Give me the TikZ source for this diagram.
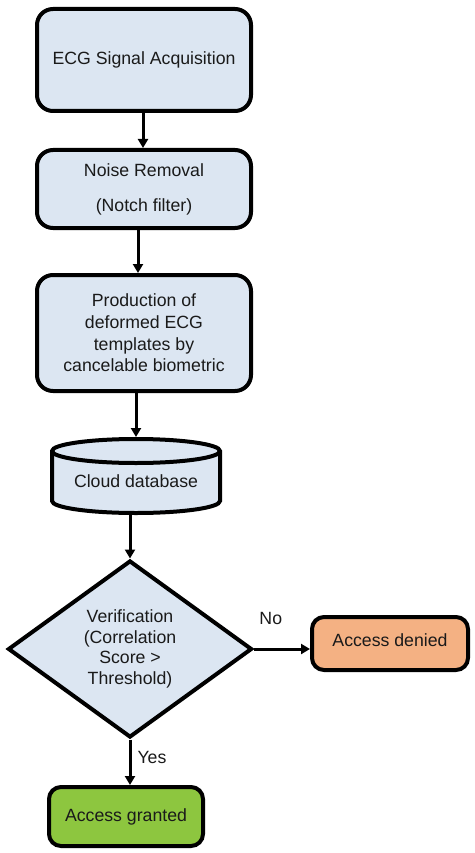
\documentclass[tikz,border=0pt]{standalone}
\usepackage{fontspec}
\setmainfont{Liberation Sans}
\usetikzlibrary{shapes.geometric,arrows.meta}
\definecolor{boxblue}{HTML}{DCE6F2}
\definecolor{boxorange}{HTML}{F4B183}
\definecolor{boxgreen}{HTML}{8DC63F}
\definecolor{txt}{HTML}{1A1A1A}
\tikzset{
  basefont/.style={font=\fontsize{17.7}{20.6}\selectfont, text=txt},
  procbox/.style={basefont, draw=black, line width=4pt, rounded corners=16pt, fill=boxblue, align=center, inner sep=0pt},
  resbox/.style={basefont, draw=black, line width=4pt, rounded corners=12pt, align=center, inner sep=0pt},
  decision/.style={basefont, diamond, draw=black, line width=4pt, fill=boxblue, align=center, inner sep=0pt, aspect=1.38},
  arr/.style={line width=3pt, -{Triangle[length=9pt,width=10pt]}},
  lbl/.style={basefont, inner sep=0pt}
}
\begin{document}
\begin{tikzpicture}[x=1pt,y=-1pt]
\useasboundingbox[fill=white] (0,0) rectangle (474,853);

\node[procbox, minimum width=214pt, minimum height=102pt] (b1) at (144,60) {\raisebox{4pt}{ECG Signal Acquisition}};
\node[procbox, minimum width=214pt, minimum height=78pt] (b2) at (144,189) {Noise Removal\\[14.4pt](Notch filter)};
\node[procbox, minimum width=214pt, minimum height=116pt, font=\fontsize{17.7}{21.7}\selectfont] (b3) at (144,333) {Production of\\deformed ECG\\templates by\\cancelable biometric};

% cloud database (cylinder)
\node[basefont, minimum width=172pt, minimum height=78pt, inner sep=0pt, outer sep=0pt] (cyl) at (136,476) {};
\path[draw=black, fill=boxblue, line width=4pt]
  (52,451) -- (52,501) arc[start angle=180, end angle=360, x radius=84pt, y radius=12pt]
  -- (220,451) arc[start angle=0, end angle=180, x radius=84pt, y radius=12pt] -- cycle;
\draw[line width=4pt] (52,451) arc[start angle=180, end angle=360, x radius=84pt, y radius=12pt];
\node[basefont, inner sep=0pt] at (136,481) {Cloud database};

\node[decision, minimum width=244pt, minimum height=177pt] (dia) at (130,649) {Verification\\(Correlation\\Score >\\Threshold)};

\node[resbox, fill=boxorange, minimum width=156pt, minimum height=53pt] (den) at (390,643.5) {\raisebox{6pt}{Access denied}};
\node[resbox, fill=boxgreen, minimum width=154pt, minimum height=59pt] (gra) at (126,816.5) {\raisebox{3pt}{Access granted}};

\draw[arr] ([xshift=-1pt]b1.south) -- ([xshift=-1pt]b2.north);
\draw[arr] ([xshift=-6pt]b2.south) -- ([xshift=-6pt]b3.north);
\draw[arr] ([xshift=-8pt]b3.south) -- (cyl.north);
\draw[arr] ([xshift=-6pt]cyl.south) -- (dia.north);
\draw[arr] (dia.east) -- (dia.east -| den.west) node[lbl, pos=0.3, above=23pt] {No};
\draw[arr] (dia.south) -- (dia.south |- gra.north) node[lbl, pos=0.4, right=6pt] {Yes};
\end{tikzpicture}
\end{document}
